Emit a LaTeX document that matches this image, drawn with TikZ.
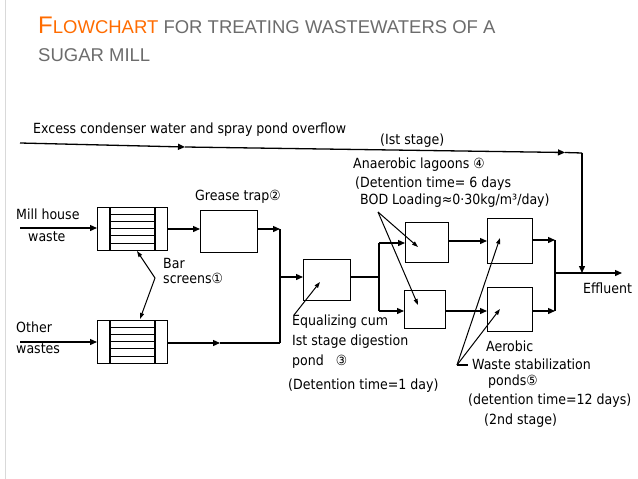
\documentclass[tikz,border=0pt]{standalone}
\usepackage{fontspec}
\setmainfont{Liberation Sans}
\newfontfamily\cond{DejaVu Sans Condensed}
\usetikzlibrary{arrows.meta}
\tikzset{
 box/.style={draw,line width=1.3pt,inner sep=0pt},
 flow/.style={line width=1.3pt,-{Triangle[length=7pt,width=6pt]}},
 ln/.style={line width=1.3pt},
 ptr/.style={line width=1pt,-{Triangle[length=6pt,width=4pt]}},
 lab/.style={font=\cond\fontsize{14}{15}\selectfont,inner sep=0pt,anchor=west,align=left},
}
\begin{document}
\begin{tikzpicture}[x=1pt,y=-1pt]
\useasboundingbox (0,0) rectangle (638,479);
\fill[white] (0,0) rectangle (638,479);
\draw[gray!30,line width=1pt] (5,0) -- (5,479);
% title
\node[anchor=west,inner sep=0pt,text=gray!85!black,font=\fontsize{18.5}{20}\selectfont] (t1) at (38,25) {{\color{orange!85!red}\fontsize{24}{24}\selectfont F\fontsize{18.5}{20}\selectfont LOWCHART} FOR TREATING WASTEWATERS OF A};
\node[anchor=west,inner sep=0pt,text=gray!85!black,font=\fontsize{18.5}{20}\selectfont] (t2) at (38,55) {SUGAR MILL};
% coordinates
\coordinate (cs) at (20,143);
\coordinate (cm) at (185,147);
\coordinate (ce) at (582,153);
\coordinate (cd) at (582,273);
\node[lab] (exc) at (33,130) {Excess condenser water and spray pond overflow};
\node[lab] (ist) at (380,141) {(Ist stage)};
\draw[flow] (cs) -- (cm);
\draw[flow] (cm) -- (565,152.5);
\draw[ln] (565,152.5) -- (ce);
\draw[flow] (ce) -- (cd);
% bar screens
\foreach \n/\y in {b1/207,b2/320}{
 \node[box,minimum width=70pt,minimum height=43pt,anchor=north west] (\n) at (97,\y) {};
 \draw[ln] (110,\y) -- (110,\y+43) (155,\y) -- (155,\y+43);
 \foreach \k in {1,...,5} \draw[line width=0.9pt] (110,\y+\k*7.2) -- (155,\y+\k*7.2);
}
\node[lab] (mh) at (16,214) {Mill house};
\node[lab] (mw) at (28,237) {waste};
\node[lab] (ow) at (16,327) {Other};
\node[lab] (ow2) at (16,349) {wastes};
\coordinate (in1) at (20,228);
\coordinate (in2) at (20,342);
\draw[flow] (in1) -- (in1-|b1.west);
\draw[flow] (in2) -- (in2-|b2.west);
\node[lab] (bs) at (163,271) {Bar\\screens①};
\coordinate (bj) at (155,278);
\draw[ptr] (bj) -- (137,251);
\draw[ptr] (bj) -- (140,319);
% grease trap
\node[box,minimum width=57pt,minimum height=42pt,anchor=north west] (gt) at (200,210) {};
\node[lab] (gtl) at (195,197) {Grease trap②};
\draw[flow] (167,229) -- (gt.west|-167,229);
\coordinate (j1) at (280,229);
\coordinate (j2) at (280,343);
\coordinate (j3) at (280,277);
\draw[flow] (257,229) -- (j1);
\draw[ln] (j1) -- (j2);
\draw[flow] (167,343) -- (220,343);
\draw[ln] (220,343) -- (j2);
% equalizing
\node[box,minimum width=47pt,minimum height=41pt,anchor=north west] (eq) at (303,259) {};
\draw[flow] (j3) -- (eq.west|-j3);
\node[lab] (eql) at (292,322) {Equalizing cum};
\node[lab] (eql2) at (292,342) {Ist stage digestion};
\node[lab] (eql3) at (292,362) {pond \ \ ③};
\node[lab] (eql4) at (288,386) {(Detention time=1 day)};
\draw[ptr] (294,315) -- (320,282);
% anaerobic
\coordinate (k1) at (379,277);
\draw[ln] (350,277) -- (k1);
\draw[ln] (379,243) -- (379,311);
\node[box,minimum width=43pt,minimum height=40pt,anchor=north west] (an1) at (405,222) {};
\node[box,minimum width=41pt,minimum height=38pt,anchor=north west] (an2) at (404,290) {};
\draw[flow] (379,243) -- (an1.west|-379,243);
\draw[flow] (379,311) -- (an2.west|-379,311);
\node[lab] (anl) at (353,165) {Anaerobic lagoons ④};
\node[lab] (anl2) at (355,184) {(Detention time= 6 days};
\node[lab] (anl3) at (360,201) {BOD Loading≈0·30kg/m³/day)};
\coordinate (ap) at (378,212);
\draw[ptr] (ap) -- (418,247);
\draw[ptr] (ap) -- (418,305);
% aerobic
\node[box,minimum width=45pt,minimum height=45pt,anchor=north west] (ae1) at (487,218) {};
\node[box,minimum width=45pt,minimum height=44pt,anchor=north west] (ae2) at (487,287) {};
\draw[flow] (448,241) -- (ae1.west|-448,241);
\draw[flow] (445,311) -- (ae2.west|-445,311);
\draw[flow] (532,240) -- (555,240);
\draw[flow] (532,311) -- (555,311);
\draw[ln] (555,240) -- (555,311);
\coordinate (ej) at (555,273);
\coordinate (eo) at (622,273);
\draw[flow] (ej) -- (eo);
\node[lab] (ef) at (583,288) {Effluent};
\node[lab] (ael) at (486,346) {Aerobic};
\node[lab] (ael2) at (472,364) {Waste stabilization};
\node[lab] (ael3) at (488,382) {ponds⑤};
\node[lab] (ael4) at (468,401) {(detention time=12 days)};
\node[lab] (ael5) at (484,421) {(2nd stage)};
\coordinate (wp) at (457,365);
\draw[ln] (wp) -- (468,365);
\draw[ptr] (wp) -- (500,238);
\draw[ptr] (wp) -- (500,309);
\end{tikzpicture}
\end{document}
